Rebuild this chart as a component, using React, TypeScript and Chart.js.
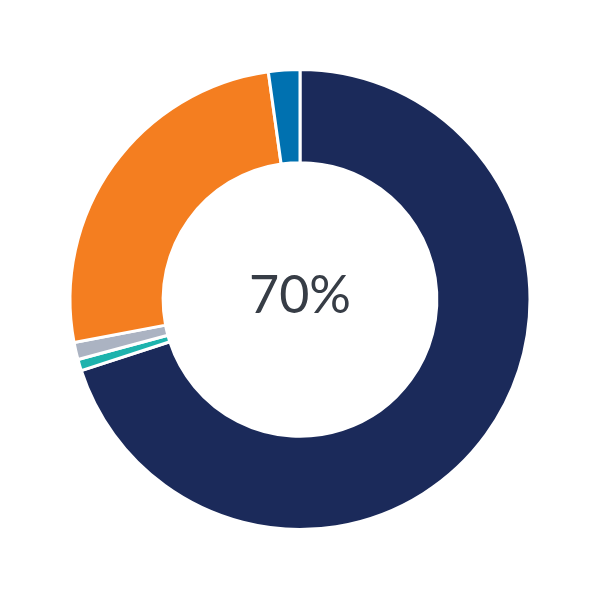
import React, { useEffect, useRef } from "react";
import { Chart, registerables } from "chart.js";

Chart.register(...registerables);

const categories = ["Navy", "Teal", "Gray", "Orange", "Blue"];
const values = [70, 0.8, 1.2, 25.8, 2.2];
const colors = ["#1b2a5a", "#1db3ad", "#abb3c2", "#f47e20", "#0071b0"];
const centerLabel = "70%";

export default function App() {
  const ref = useRef<HTMLCanvasElement | null>(null);
  useEffect(() => {
    document.body.style.margin = "0";
    const chart = new Chart(ref.current!, {
      type: "doughnut",
      data: {
        labels: categories,
        datasets: [
          {
            data: values,
            backgroundColor: colors,
            borderColor: "#ffffff",
            borderWidth: 3,
            hoverOffset: 0,
          },
        ],
      },
      options: {
        animation: false,
        responsive: false,
        cutout: "59.5%",
        layout: { padding: { top: 68, bottom: 68, left: 68, right: 68 } },
        plugins: { legend: { display: false }, tooltip: { enabled: false } },
      },
    });
    return () => chart.destroy();
  }, []);
  return (
    <div style={{ position: "relative", width: 600, height: 599 }}>
      <canvas ref={ref} width={600} height={599} style={{ width: 600, height: 599, display: "block" }} />
      <div
        style={{
          position: "absolute",
          left: 0,
          top: 267,
          width: 600,
          height: 52,
          lineHeight: "52px",
          textAlign: "center",
          fontFamily: "Lato",
          fontSize: 52,
          color: "#373d46",
          pointerEvents: "none",
        }}
      >
        {centerLabel}
      </div>
    </div>
  );
}
